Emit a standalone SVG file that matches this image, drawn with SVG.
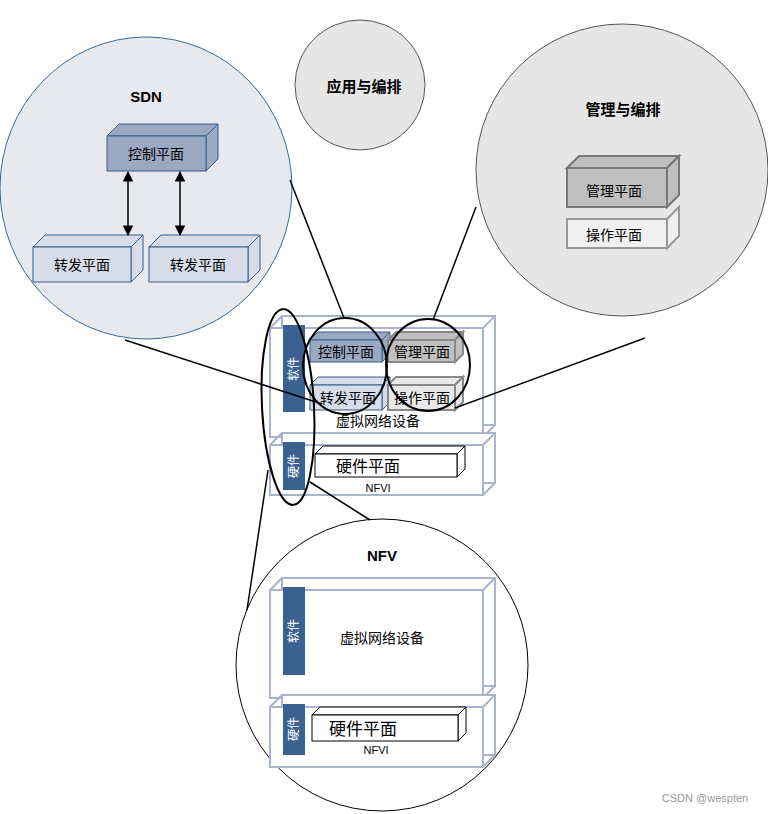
<svg xmlns="http://www.w3.org/2000/svg" width="768" height="814" viewBox="0 0 768 814">
<style>
text{font-family:"Liberation Sans","Noto Sans CJK SC",sans-serif;fill:#000}
.t{font-size:14px;text-anchor:middle}
.ts{font-size:11px;text-anchor:middle}
.hw{font-size:16px;text-anchor:middle}
.hw2{font-size:17px;text-anchor:middle}
.b{font-weight:bold;font-size:15px;text-anchor:middle}
.ctn{fill:#fff;stroke:#a9b4cc;stroke-width:2}
.bar{fill:#3a6190}
.bt{fill:#fff;font-size:12px;text-anchor:middle}
.ln{stroke:#000;stroke-width:1.5;fill:none}
.el{stroke:#000;stroke-width:2;fill:none}
</style>
<defs>
<marker id="ah" viewBox="0 0 10 10" refX="9" refY="5" markerWidth="9" markerHeight="7" orient="auto-start-reverse"><path d="M0,0L10,5L0,10z" fill="#000"/></marker>
</defs>
<rect width="768" height="814" fill="#fff"/>
<g id="sdn">
<ellipse cx="146" cy="188" rx="146" ry="151" fill="#e8e9ee" stroke="#3a6898"/>
<text class="b" x="146" y="102">SDN</text>
</g>
<g id="apps">
<circle cx="360" cy="85" r="65" fill="#e6e6e6" stroke="#555"/>
<text class="b" x="364" y="92">应用与编排</text>
</g>
<g id="mano">
<circle cx="622" cy="170" r="146" fill="#e6e6e6" stroke="#555"/>
<text class="b" x="623" y="115">管理与编排</text>
</g>
<g id="nfv">
<circle cx="382" cy="665" r="146" fill="#fff" stroke="#000"/>
<text class="b" x="382" y="561">NFV</text>
</g>
<g id="sdn-ctrl" fill="#9aa8c2" stroke="#335f8a">
<polygon points="107,136 119,124 218,124 206,136"/><polygon points="206,136 218,124 218,159 206,171"/>
<rect x="107" y="136" width="99" height="35"/><text class="t" x="156" y="159" stroke="none">控制平面</text>
</g>
<g id="sdn-fwd1" fill="#d6dce8" stroke="#335f8a">
<polygon points="33,247 45,235 143,235 131,247"/><polygon points="131,247 143,235 143,270 131,282"/>
<rect x="33" y="247" width="98" height="35"/><text class="t" x="82" y="270" stroke="none">转发平面</text>
</g>
<g id="sdn-fwd2" fill="#d6dce8" stroke="#335f8a">
<polygon points="149,247 161,235 260,235 248,247"/><polygon points="248,247 260,235 260,270 248,282"/>
<rect x="149" y="247" width="99" height="35"/><text class="t" x="198" y="270" stroke="none">转发平面</text>
</g>
<g id="mgmt" fill="#bfbfbf" stroke="#777" stroke-width="2">
<polygon points="567,168 579,156 679,156 667,168"/><polygon points="667,168 679,156 679,195 667,207"/>
<rect x="567" y="168" width="100" height="39"/><text class="t" x="614" y="196" stroke="none">管理平面</text>
</g>
<g id="oper" fill="#f0f0f0" stroke="#999" stroke-width="2">
<polygon points="667,219 679,207 679,236 667,248"/>
<rect x="567" y="219" width="100" height="29"/><text class="t" x="614" y="240" stroke="none">操作平面</text>
</g>
<g id="center">
<rect class="ctn" x="282" y="316" width="213" height="109"/>
<path class="ctn" d="M270,328L282,316M483,328L495,316M483,437L495,425"/>
<rect class="ctn" x="270" y="328" width="213" height="109" fill="none"/>
<rect class="ctn" x="282" y="433" width="213" height="50"/>
<path class="ctn" d="M270,445L282,433M483,445L495,433M483,495L495,483"/>
<rect class="ctn" x="270" y="445" width="213" height="50"/>
<rect class="bar" x="283" y="325" width="22" height="87"/>
<text class="bt" transform="translate(298,369) rotate(-90)">软件</text>
<rect class="bar" x="283" y="442" width="22" height="48"/>
<text class="bt" transform="translate(298,466) rotate(-90)">硬件</text>
<g fill="#9aa8c2" stroke="#335f8a"><polygon points="310,340 318,332 390,332 382,340"/><polygon points="382,340 390,332 390,354 382,362"/><rect x="310" y="340" width="72" height="22"/></g>
<text class="t" x="346" y="357">控制平面</text>
<g fill="#bfbfbf" stroke="#888" stroke-width="2"><polygon points="388,340 396,332 463,332 455,340"/><polygon points="455,340 463,332 463,354 455,362"/><rect x="388" y="340" width="67" height="22"/></g>
<text class="t" x="422" y="357">管理平面</text>
<g fill="#d6dce8" stroke="#335f8a"><polygon points="310,385 318,377 390,377 382,385"/><polygon points="382,385 390,377 390,402 382,410"/><rect x="310" y="385" width="72" height="25"/></g>
<text class="t" x="348" y="403">转发平面</text>
<g fill="#e8e8e8" stroke="#888" stroke-width="2"><polygon points="388,385 396,377 463,377 455,385"/><polygon points="455,385 463,377 463,402 455,410"/><rect x="388" y="385" width="67" height="25"/></g>
<text class="t" x="422" y="403">操作平面</text>
<text class="t" x="378" y="426">虚拟网络设备</text>
<g fill="#fff" stroke="#000"><polygon points="315,454 323,446 465,446 457,454"/><polygon points="457,454 465,446 465,469 457,477"/><rect x="315" y="454" width="142" height="23"/></g>
<text class="hw" x="368" y="472">硬件平面</text>
<text class="ts" x="378" y="492">NFVI</text>
</g>
<g id="nfv-inner">
<rect class="ctn" x="282" y="578" width="213" height="108"/>
<path class="ctn" d="M270,590L282,578M483,590L495,578M483,698L495,686"/>
<rect class="ctn" x="270" y="590" width="213" height="108" fill="none"/>
<rect class="ctn" x="282" y="695" width="213" height="60"/>
<path class="ctn" d="M270,707L282,695M483,707L495,695M483,767L495,755"/>
<rect class="ctn" x="270" y="707" width="213" height="60"/>
<rect class="bar" x="283" y="587" width="22" height="88"/>
<text class="bt" transform="translate(298,631) rotate(-90)">软件</text>
<rect class="bar" x="283" y="704" width="22" height="51"/>
<text class="bt" transform="translate(298,729) rotate(-90)">硬件</text>
<text class="t" x="382" y="643">虚拟网络设备</text>
<g fill="#fff" stroke="#000"><polygon points="312,715 320,707 466,707 458,715"/><polygon points="458,715 466,707 466,733 458,741"/><rect x="312" y="715" width="146" height="26"/></g>
<text class="hw2" x="363" y="735">硬件平面</text>
<text class="ts" x="376" y="754">NFVI</text>
</g>
<g id="connectors">
<line class="ln" x1="128" y1="172" x2="128" y2="235" marker-start="url(#ah)" marker-end="url(#ah)"/>
<line class="ln" x1="180" y1="172" x2="180" y2="235" marker-start="url(#ah)" marker-end="url(#ah)"/>
<line class="ln" x1="290" y1="180" x2="344" y2="318"/>
<line class="ln" x1="476" y1="207" x2="433" y2="320"/>
<line class="ln" x1="125" y1="340" x2="322" y2="404"/>
<line class="ln" x1="645" y1="338" x2="455" y2="408"/>
<line class="ln" x1="268" y1="470" x2="247" y2="610"/>
<line class="ln" x1="310" y1="482" x2="370" y2="520"/>
<ellipse class="el" cx="288" cy="407" rx="26" ry="98" transform="rotate(-3 288 407)"/>
<ellipse class="el" cx="345" cy="366" rx="42" ry="48"/>
<ellipse class="el" cx="428" cy="365" rx="42" ry="46"/>
</g>
<text x="705" y="802" font-size="11" text-anchor="middle" style="fill:#999">CSDN @wespten</text>
</svg>
